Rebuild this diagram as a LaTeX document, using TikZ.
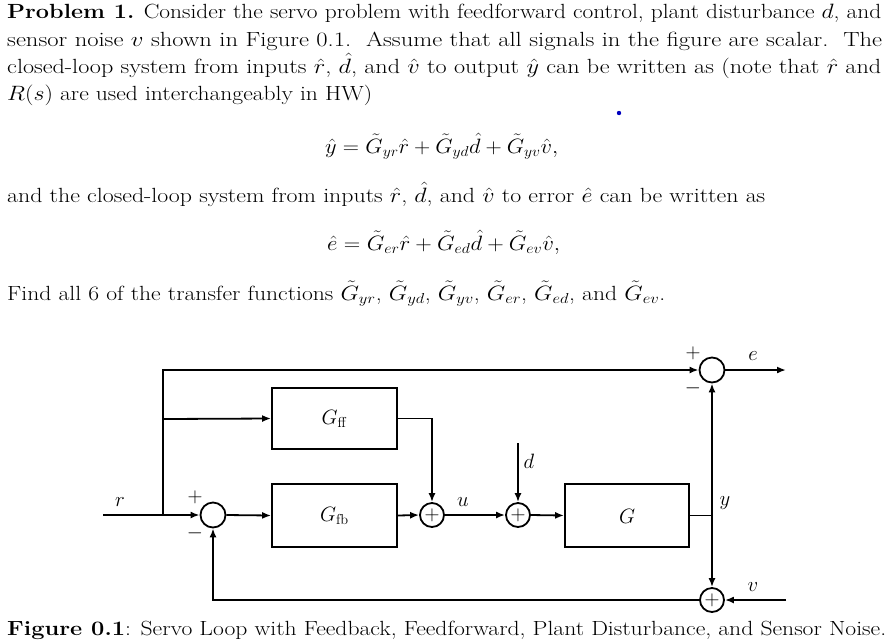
\documentclass[tikz,border=0pt]{standalone}
\usepackage{amsmath}
\usetikzlibrary{arrows.meta}
\begin{document}
\begin{tikzpicture}[x=1pt,y=-1pt,
  txt/.style={anchor=base west,inner sep=0pt,font=\fontsize{20.5}{24}\selectfont},
  blk/.style={draw,line width=1.8pt,minimum width=125pt,minimum height=62pt,inner sep=0pt},
  sumj/.style={draw,circle,line width=1.8pt,minimum size=25pt,inner sep=0pt},
  lbl/.style={inner sep=0pt,font=\fontsize{20}{24}\selectfont},
  sgn/.style={inner sep=0pt,font=\fontsize{20}{24}\selectfont},
  wire/.style={line width=1.8pt},
  arr/.style={line width=1.8pt,-{Latex[length=9pt,width=7pt]}}]
\useasboundingbox (0,0) rectangle (888,641);
% text
\node[txt] (l1) at (7,18) {\resizebox{874pt}{\height}{\textbf{Problem 1.} Consider the servo problem with feedforward control, plant disturbance $d$, and}};
\node[txt] (l2) at (7,46) {\resizebox{875pt}{\height}{sensor noise $v$ shown in Figure 0.1.\ \ Assume that all signals in the figure are scalar.\ \ The}};
\node[txt] (l3) at (7,73) {\resizebox{874pt}{\height}{closed-loop system from inputs $\hat r$, $\hat d$, and $\hat v$ to output $\hat y$ can be written as (note that $\hat r$ and}};
\node[txt] (l4) at (7,100) {\resizebox{365pt}{\height}{$R(s)$ are used interchangeably in HW)}};
\node[txt] (eq1) at (325,153) {\resizebox{233pt}{\height}{$\hat y = \tilde G_{yr}\hat r + \tilde G_{yd}\hat d + \tilde G_{yv}\hat v,$}};
\node[txt] (l5) at (7,202) {\resizebox{758pt}{\height}{and the closed-loop system from inputs $\hat r$, $\hat d$, and $\hat v$ to error $\hat e$ can be written as}};
\node[txt] (eq2) at (327,250) {\resizebox{233pt}{\height}{$\hat e = \tilde G_{er}\hat r + \tilde G_{ed}\hat d + \tilde G_{ev}\hat v,$}};
\node[txt] (l6) at (7,300) {\resizebox{658pt}{\height}{Find all 6 of the transfer functions $\tilde G_{yr}$, $\tilde G_{yd}$, $\tilde G_{yv}$, $\tilde G_{er}$, $\tilde G_{ed}$, and $\tilde G_{ev}$.}};
\node[txt] (cap) at (7,635) {\resizebox{879pt}{\height}{\textbf{Figure 0.1}: Servo Loop with Feedback, Feedforward, Plant Disturbance, and Sensor Noise.}};
\fill[blue!75!black] (619,113) circle (2.2pt);
% blocks
\node[blk,minimum height=61pt] (Gff) at (334.5,418.5) {};
\node[lbl] (Gfflbl) at (334.5,419) {$G_{\mathrm{ff}}$};
\node[blk,minimum height=63pt] (Gfb) at (334.5,515.5) {};
\node[lbl] (Gfblbl) at (334.5,516) {$G_{\mathrm{fb}}$};
\node[blk,minimum width=124pt,minimum height=63pt] (G) at (627,515.5) {};
\node[lbl] (Glbl) at (627,516) {$G$};
\node[sumj] (s1) at (213,515) {};
\node[sumj,minimum size=24pt] (s2) at (432,515) {};
\node[sgn] (s2p) at (432,515) {$+$};
\node[sumj,minimum size=24pt] (s3) at (518,515) {};
\node[sgn] (s3p) at (518,515) {$+$};
\node[sumj] (se) at (712,370) {};
\node[sumj,minimum size=24pt] (sv) at (712,600) {};
\node[sgn] (svp) at (712,600) {$+$};
% coordinates
\coordinate (rin) at (103,515);
\coordinate (rsplit) at (163,515);
\coordinate (ffsplit) at (163,419);
\coordinate (eout) at (786,370);
\coordinate (yout) at (712,515.5);
\coordinate (vin) at (786,600);
\coordinate (dtop) at (518,443);
% connectors
\draw[arr] (rin) -- (s1.west);
\draw[arr] (rsplit) |- (se.west);
\draw[arr] (ffsplit) -- (Gff.west);
\draw[arr] (s1.east) -- (Gfb.west);
\draw[arr] (Gfb.east) -- (s2.west);
\draw[arr] (Gff.east) -| (s2.north);
\draw[arr] (s2.east) -- (s3.west);
\draw[arr] (dtop) -- (s3.north);
\draw[arr] (s3.east) -- (G.west);
\draw[wire] (G.east) -- (yout);
\draw[arr] (yout) -- (se.south);
\draw[arr] (yout) -- (sv.north);
\draw[arr] (vin) -- (sv.east);
\draw[arr] (sv.west) -| (s1.south);
\draw[arr] (se.east) -- (eout);
% labels
\node[lbl] (rl) at (120,502) {$r$};
\node[lbl] (ul) at (463,502) {$u$};
\node[lbl] (dl) at (529,461) {$d$};
\node[lbl] (el) at (753,356) {$e$};
\node[lbl] (yl) at (725,503) {$y$};
\node[lbl] (vl) at (753,587) {$v$};
\node[sgn] (p1) at (195,497) {$+$};
\node[sgn] (m1) at (195,533) {$-$};
\node[sgn] (p2) at (693,353) {$+$};
\node[sgn] (m2) at (693,388) {$-$};
\end{tikzpicture}
\end{document}
